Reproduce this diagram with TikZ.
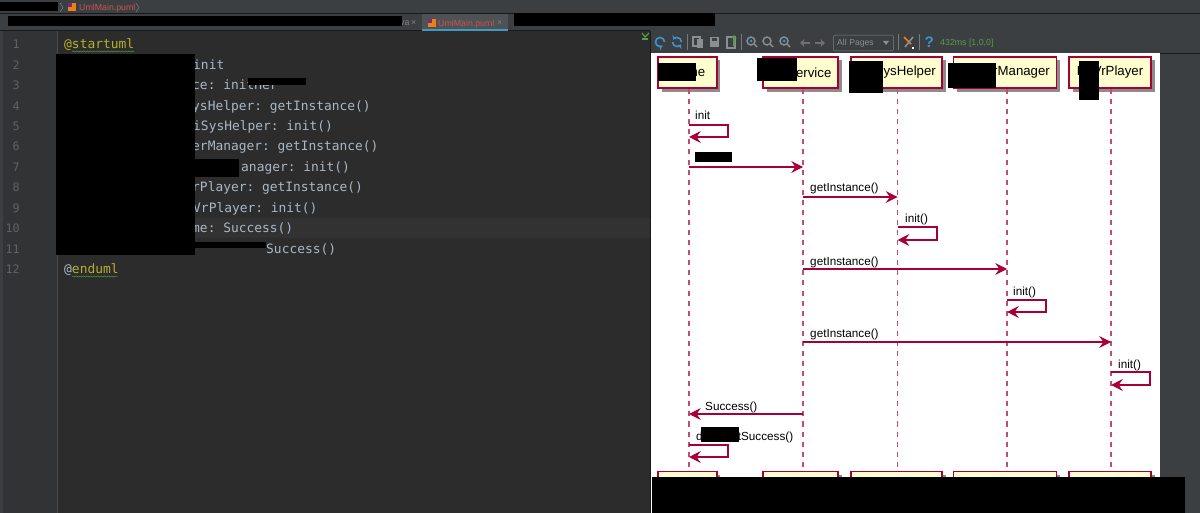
\documentclass[tikz,border=0pt]{standalone}
\usepackage{fontspec}
\setmainfont{Liberation Sans}
\setmonofont{DejaVu Sans Mono}
\usetikzlibrary{arrows.meta,shadows,decorations.pathmorphing}
\definecolor{barbg}{HTML}{3C3F41}
\definecolor{edbg}{HTML}{2C2C2C}
\definecolor{gutbg}{HTML}{313335}
\definecolor{curline}{HTML}{323232}
\definecolor{codegray}{HTML}{A9B7C6}
\definecolor{numgray}{HTML}{5F6366}
\definecolor{umlyellow}{HTML}{B5B02A}
\definecolor{tabred}{HTML}{C75450}
\definecolor{tabbg}{HTML}{4E5254}
\definecolor{tabblue}{HTML}{3E9CC4}
\definecolor{iconblue}{HTML}{3B92CC}
\definecolor{icongray}{HTML}{8A8F93}
\definecolor{okgreen}{HTML}{5A9A4A}
\definecolor{umlred}{HTML}{A80036}
\definecolor{umlfill}{HTML}{FEFECE}
\tikzset{
  partbox/.style={draw=umlred,line width=1.4pt,fill=umlfill,minimum height=26.5pt,inner sep=0pt,
    font=\fontsize{11.3}{13}\selectfont,text=black,general shadow={fill=black!45,shadow xshift=3pt,shadow yshift=-3pt}},
  lifeline/.style={umlred!70!white,line width=1.2pt,dash pattern=on 4.3pt off 4.3pt},
  msg/.style={umlred,line width=.9pt,-{Stealth[length=10pt,width=10pt,inset=3.5pt]}},
  selfmsg/.style={umlred,line width=.9pt,-{Stealth[length=10pt,width=10pt,inset=3.5pt]}},
  msglab/.style={anchor=base west,inner sep=0pt,font=\fontsize{10}{12}\selectfont,text=black},
  codetext/.style={anchor=base west,inner sep=0pt,font=\ttfamily\fontsize{11}{13}\selectfont,text=codegray},
  linenum/.style={anchor=base east,inner sep=0pt,font=\ttfamily\fontsize{10}{12}\selectfont,text=numgray},
  tablab/.style={anchor=base west,inner sep=0pt,font=\fontsize{7.5}{10}\selectfont,text=tabred},
  iconlab/.style={anchor=base west,inner sep=0pt,font=\fontsize{7.5}{9}\selectfont},
  mask/.style={fill=black,draw=none},
  wavy/.style={okgreen,line width=.4pt,decorate,decoration={snake,amplitude=.5pt,segment length=3pt}},
  toolicon/.style={icongray,line width=1.2pt},
  blueicon/.style={iconblue,line width=1.4pt,-{Stealth[length=3.5pt,width=5pt]}},
  navicon/.style={gray!75!barbg,line width=1.2pt,-{Stealth[length=4pt,width=7pt]}}
}
\begin{document}
\begin{tikzpicture}[x=0.03cm,y=-0.03cm]
\useasboundingbox (0,0) rectangle (1200,513);
% panels
\fill [barbg] (0,0) rectangle (1200,513);
\fill [edbg] (3,31) rectangle (650,513);
\fill [gutbg] (3,31) rectangle (57,513);
\draw [gray!60!black] (57.5,31)--(57.5,513);
\fill [curline] (58,218) rectangle (650,238);
\draw [black!60!barbg] (0,13.5)--(1200,13.5);
\draw [black!60!barbg] (0,30.5)--(650,30.5);
\draw [black!60!barbg] (650,31)--(650,513);
\draw [black!60!barbg] (651,53)--(1200,53);
\fill [white] (651,53) rectangle (1160,513);
% breadcrumb and tabs
\fill [tabbg] (422,14) rectangle (508,29);
\fill [tabblue] (422,29) rectangle (508,31);
\draw [gray] (60,3)--(63,7.5)--(60,12);
\draw [gray] (136,3)--(139,7.5)--(136,12);
\fill [orange!70!brown] (68,3) rectangle (76,11);
\fill [violet!70!gray] (68,3) rectangle (72,7);
\node [tablab] (crumb) at (79,11) {UmlMain.puml};
\fill [orange!70!brown] (428,19) rectangle (436,27);
\fill [violet!70!gray] (428,19) rectangle (432,23);
\node [tablab] (tabmain) at (438,26.5) {UmlMain.puml};
\node [tablab,text=gray] (tabx) at (497,26) {×};
\node [tablab,text=gray] (tabold) at (400,26) {va};
\node [tablab,text=gray] (taboldx) at (411,26) {×};
% line numbers
\node [linenum] (n1) at (20,49) {1};
\node [linenum] (n2) at (20,69.5) {2};
\node [linenum] (n3) at (20,90) {3};
\node [linenum] (n4) at (20,110.5) {4};
\node [linenum] (n5) at (20,131) {5};
\node [linenum] (n6) at (20,151) {6};
\node [linenum] (n7) at (20,171.5) {7};
\node [linenum] (n8) at (20,192) {8};
\node [linenum] (n9) at (20,212.5) {9};
\node [linenum] (n10) at (20,233) {10};
\node [linenum] (n11) at (20,253.5) {11};
\node [linenum] (n12) at (20,274) {12};
% code
\node [codetext,text=umlyellow] (start) at (64,49) {@startuml};
\node [codetext] (c2) at (193,69.5) {init};
\node [codetext] (c3) at (192,90) {ce: initHer};
\node [codetext] (c4) at (192,110.5) {ysHelper: getInstance()};
\node [codetext] (c5) at (193,131) {iSysHelper: init()};
\node [codetext] (c6) at (192,151) {erManager: getInstance()};
\node [codetext] (c7) at (241,171.5) {anager: init()};
\node [codetext] (c8) at (192,192) {rPlayer: getInstance()};
\node [codetext] (c9) at (193,212.5) {VrPlayer: init()};
\node [codetext] (c10) at (192,233) {me: Success()};
\node [codetext] (c11) at (266,253.5) {Success()};
\node [codetext,text=umlyellow] (end) at (64,274) {\textcolor{codegray}{@}enduml};
\draw [wavy] (72,51.5)--(134,51.5);
\draw [wavy] (72,276.5)--(118,276.5);
% toolbar
\draw [okgreen,line width=1pt] (642,33)--(645,37)--(649,33);
\draw [okgreen,line width=1pt] (642,39)--(648,39);
\draw [blueicon] (664.5,42) arc [radius=4.5,start angle=0,end angle=-300];
\draw [blueicon] (681.5,42) arc [radius=4.5,start angle=0,end angle=-150];
\draw [blueicon] (672.5,42) arc [radius=4.5,start angle=180,end angle=30];
\draw [barbg!70!white] (687.5,34)--(687.5,50);
\draw [toolicon] (693,37) rectangle (700,46);
\fill [icongray] (697,39) rectangle (703,48);
\fill [icongray] (710,37) rectangle (719,47);
\fill [barbg] (712,38) rectangle (717,41);
\draw [toolicon] (727,37) rectangle (735,48);
\draw [okgreen,line width=1.4pt,-{Stealth[length=3pt,width=5pt]}] (734,46)--(734,35);
\draw [barbg!70!white] (741.5,34)--(741.5,50);
\draw [toolicon] (751,41) circle (4);
\fill [iconblue] (751,41) circle (1.5);
\draw [toolicon] (754,44)--(757,47);
\draw [toolicon] (767,41) circle (4);
\draw [toolicon] (770,44)--(773,47);
\draw [toolicon] (784,41) circle (4);
\fill [iconblue] (784,41) circle (1.5);
\draw [toolicon] (787,44)--(790,47);
\draw [navicon] (810,43)--(800,43);
\draw [navicon] (815,43)--(825,43);
\node [draw=gray,rounded corners=1pt,minimum width=51pt,minimum height=13.5pt,inner sep=0pt,text=icongray,font=\fontsize{7.3}{9}\selectfont,text width=45pt] (pages) at (863.5,43) {All Pages};
\fill [icongray] (883,41) -- (889,41) -- (886,45) -- cycle;
\draw [barbg!70!white] (898.5,34)--(898.5,50);
\draw [orange!70!brown,line width=1.3pt] (904,37)--(911,44);
\draw [icongray,line width=1.3pt] (913,37)--(905,47);
\fill [white] (912,47) rectangle (914,49);
\draw [barbg!70!white] (919.5,34)--(919.5,50);
\node [iconlab,text=iconblue,font=\bfseries\fontsize{13}{13}\selectfont] (help) at (924.5,48) {?};
\node [iconlab,text=okgreen] (timing) at (940,46) {432ms [1,0,0]};
% participants
\node [partbox,minimum width=50pt] (home) at (687.5,72.5) {\phantom{Ho}me};
\node [partbox,minimum width=64pt] (service) at (800.5,72.5) {\phantom{xxxx}ervice};
\node [partbox,minimum width=78pt] (helper) at (896.5,72.5) {\phantom{xxxx}ysHelper};
\node [partbox,minimum width=88pt] (manager) at (1005,72.5) {\phantom{xxxxx}rManager};
\node [partbox,minimum width=70pt] (player) at (1110,72.5) {H\phantom{x}VrPlayer};
\node [partbox,minimum width=50pt] (homeb) at (687.5,487) {};
\node [partbox,minimum width=64pt] (serviceb) at (800.5,487) {};
\node [partbox,minimum width=78pt] (helperb) at (896.5,487) {};
\node [partbox,minimum width=88pt] (managerb) at (1005,487) {};
\node [partbox,minimum width=70pt] (playerb) at (1110,487) {};
\coordinate (homeT) at (689,89);
\coordinate (serviceT) at (803,89);
\coordinate (helperT) at (897.5,89);
\coordinate (managerT) at (1007,89);
\coordinate (playerT) at (1111,89);
\draw [lifeline] (homeT)--(homeT |- homeb.north);
\draw [lifeline] (serviceT)--(serviceT |- serviceb.north);
\draw [lifeline] (helperT)--(helperT |- helperb.north);
\draw [lifeline] (managerT)--(managerT |- managerb.north);
\draw [lifeline] (playerT)--(playerT |- playerb.north);
% messages
\draw [selfmsg] (homeT |- 0,125)--(728,125)--(728,137)--(homeT |- 0,137);
\node [msglab] (linit) at (695,120) {init};
\draw [msg] (homeT |- 0,167)--(serviceT |- 0,167);
\draw [msg] (serviceT |- 0,197)--(helperT |- 0,197);
\node [msglab] (lget1) at (810,192) {getInstance()};
\draw [selfmsg] (helperT |- 0,227)--(937,227)--(937,240)--(helperT |- 0,240);
\node [msglab] (linit1) at (905,222.5) {init()};
\draw [msg] (serviceT |- 0,269)--(managerT |- 0,269);
\node [msglab] (lget2) at (810,265) {getInstance()};
\draw [selfmsg] (managerT |- 0,300)--(1046,300)--(1046,312)--(managerT |- 0,312);
\node [msglab] (linit2) at (1013,295) {init()};
\draw [msg] (serviceT |- 0,342)--(playerT |- 0,342);
\node [msglab] (lget3) at (810,337.5) {getInstance()};
\draw [selfmsg] (playerT |- 0,372)--(1150,372)--(1150,385)--(playerT |- 0,385);
\node [msglab] (linit3) at (1118,368) {init()};
\draw [msg] (serviceT |- 0,414)--(homeT |- 0,414);
\node [msglab] (lok) at (705,410) {Success()};
\draw [selfmsg] (homeT |- 0,445)--(728,445)--(728,457)--(homeT |- 0,457);
\node [msglab] (lok2) at (696,440.5) {d\phantom{xxxxxx}tSuccess()};
% redactions
\fill [mask] (0,2) rectangle (58,11);
\fill [mask] (8,16) rectangle (402,26);
\fill [mask] (514,13) rectangle (715,26);
\fill [mask] (56,54) rectangle (195,255);
\fill [mask] (195,159) rectangle (239,177);
\fill [mask] (195,242) rectangle (266,248);
\fill [mask] (248,78) rectangle (306,85);
\fill [mask] (658,63) rectangle (696,81);
\fill [mask] (757,58) rectangle (797,81);
\fill [mask] (849,61) rectangle (883,93);
\fill [mask] (948,63) rectangle (996,88);
\fill [mask] (1079,61) rectangle (1099,100);
\fill [mask] (695,152) rectangle (732,162);
\fill [mask] (701,427) rectangle (739,442);
\fill [mask] (652,477) rectangle (1185,513);
\end{tikzpicture}
\end{document}
